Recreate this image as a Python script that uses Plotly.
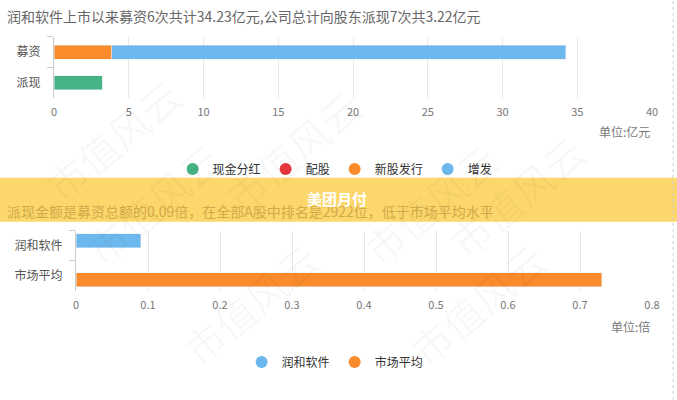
import plotly.graph_objects as go

# texts
title_top = "润和软件上市以来募资6次共计34.23亿元,公司总计向股东派现7次共3.22亿元"
title_bottom = "派现金额是募资总额的0.09倍，在全部A股中排名是2922位，低于市场平均水平"
banner_text = "美团月付"

# top chart: fund raising vs dividends (亿元)
cats_top = ["募资", "派现"]
series_top = ["现金分红", "配股", "新股发行", "增发"]
colors_top = ["#45b383", "#e8363d", "#f98b2b", "#6cb8ee"]
cash_div = [0, 3.22]
rights = [0, 0]
ipo = [3.85, 0]
seo = [30.38, 0]

# bottom chart: dividend / fund raising ratio (倍)
cats_bottom = ["润和软件", "市场平均"]
ratio = [0.09, 0.73]
colors_bottom = ["#6cb8ee", "#f98b2b"]

FONT = "Noto Sans CJK SC"
W, H = 677, 400


def px(x):
    return x / W


def py(y):
    return 1 - y / H


fig = go.Figure()

top_vals = [cash_div, rights, ipo, seo]
for name, vals, col in zip(series_top, top_vals, colors_top):
    fig.add_trace(go.Bar(
        y=cats_top, x=vals, orientation="h", name=name,
        marker_color=col, width=0.45, showlegend=False,
        xaxis="x", yaxis="y", hoverinfo="x+name"))
    # legend entry with a round icon
    fig.add_trace(go.Scatter(
        x=[None], y=[None], mode="markers", name=name,
        marker=dict(color=col, size=12, symbol="circle"),
        xaxis="x", yaxis="y", legend="legend"))

offsets = [-0.385, -0.09]
for cat, val, col, off in zip(cats_bottom, ratio, colors_bottom, offsets):
    fig.add_trace(go.Bar(
        y=[cat], x=[val], orientation="h", name=cat,
        marker_color=col, width=0.465, offset=off, showlegend=False,
        xaxis="x2", yaxis="y2"))
    fig.add_trace(go.Scatter(
        x=[None], y=[None], mode="markers", name=cat,
        marker=dict(color=col, size=12, symbol="circle"),
        xaxis="x2", yaxis="y2", legend="legend2"))

yax = dict(type="category", autorange="reversed", showline=True,
           linecolor="#cccccc", ticks="outside", tickson="boundaries",
           ticklen=6, tickcolor="#cccccc", showgrid=False,
           tickfont=dict(size=12, color="#555555"), ticklabelstandoff=10,
           fixedrange=True, automargin=False)
xax = dict(showgrid=True, gridcolor="#e8e8e8", zeroline=False,
           showline=False, ticks="", tickfont=dict(size=11, color="#777777"),
           ticklabelstandoff=6, fixedrange=True, automargin=False)

watermarks = [(210, 75), (600, 120), (30, 140), (70, 280), (430, 280),
              (250, 380), (560, 380)]
annotations = [
    dict(text=title_top, x=px(5), y=py(16), xref="paper", yref="paper",
         xanchor="left", yanchor="middle", showarrow=False,
         font=dict(size=14, color="#666666")),
    # sits under the yellow banner in the original, so tinted
    dict(text=title_bottom, x=px(5), y=py(211), xref="paper", yref="paper",
         xanchor="left", yanchor="middle", showarrow=False,
         font=dict(size=14, color="#d2aa4a")),
    dict(text="单位:亿元", x=px(652), y=py(131), xref="paper", yref="paper",
         xanchor="right", yanchor="middle", showarrow=False,
         font=dict(size=12, color="#777777")),
    dict(text="单位:倍", x=px(652), y=py(326), xref="paper", yref="paper",
         xanchor="right", yanchor="middle", showarrow=False,
         font=dict(size=12, color="#777777")),
]
for wx, wy in watermarks:
    annotations.append(dict(
        text="市值风云", x=px(wx), y=py(wy), xref="paper", yref="paper",
        showarrow=False, textangle=-40,
        font=dict(size=40, color="rgba(0,0,0,0.03)")))
annotations.append(dict(
    text="<b>" + banner_text + "</b>", x=px(337), y=py(198),
    xref="paper", yref="paper", showarrow=False,
    font=dict(size=15, color="white")))

fig.update_layout(
    width=W, height=H,
    margin=dict(l=0, r=0, t=0, b=0, autoexpand=False),
    paper_bgcolor="white", plot_bgcolor="white",
    font=dict(family=FONT, color="#555555"),
    barmode="stack",
    xaxis=dict(xax, domain=[px(54), px(652)], range=[0, 40], dtick=5,
               anchor="y"),
    yaxis=dict(yax, domain=[py(98.3), py(36.7)], categoryarray=cats_top,
               categoryorder="array", anchor="x"),
    xaxis2=dict(xax, domain=[px(76), px(652)], range=[0, 0.8], dtick=0.1,
                anchor="y2"),
    yaxis2=dict(yax, domain=[py(290.7), py(230.5)],
                categoryarray=cats_bottom, categoryorder="array",
                anchor="x2"),
    legend=dict(orientation="h", x=0.495, xanchor="center", y=py(169),
                yanchor="middle", font=dict(size=12, color="#333333"),
                bgcolor="rgba(0,0,0,0)", traceorder="normal"),
    legend2=dict(orientation="h", x=0.495, xanchor="center", y=py(362),
                 yanchor="middle", font=dict(size=12, color="#333333"),
                 bgcolor="rgba(0,0,0,0)", traceorder="normal"),
    annotations=annotations,
    shapes=[
        dict(type="rect", xref="paper", yref="paper", x0=0, x1=1,
             y0=py(221.7), y1=py(177.7), fillcolor="rgba(252,210,88,0.88)",
             line=dict(width=0), layer="above"),
        dict(type="line", xref="paper", yref="paper", x0=px(673),
             x1=px(673), y0=0, y1=1,
             line=dict(color="#d0d0d0", width=1, dash="dot")),
    ],
    showlegend=True,
)

# page body margin would shift the figure by 8px
fig.write_html("out.html", config={"displayModeBar": False},
               post_script="document.body.style.margin='0';")
